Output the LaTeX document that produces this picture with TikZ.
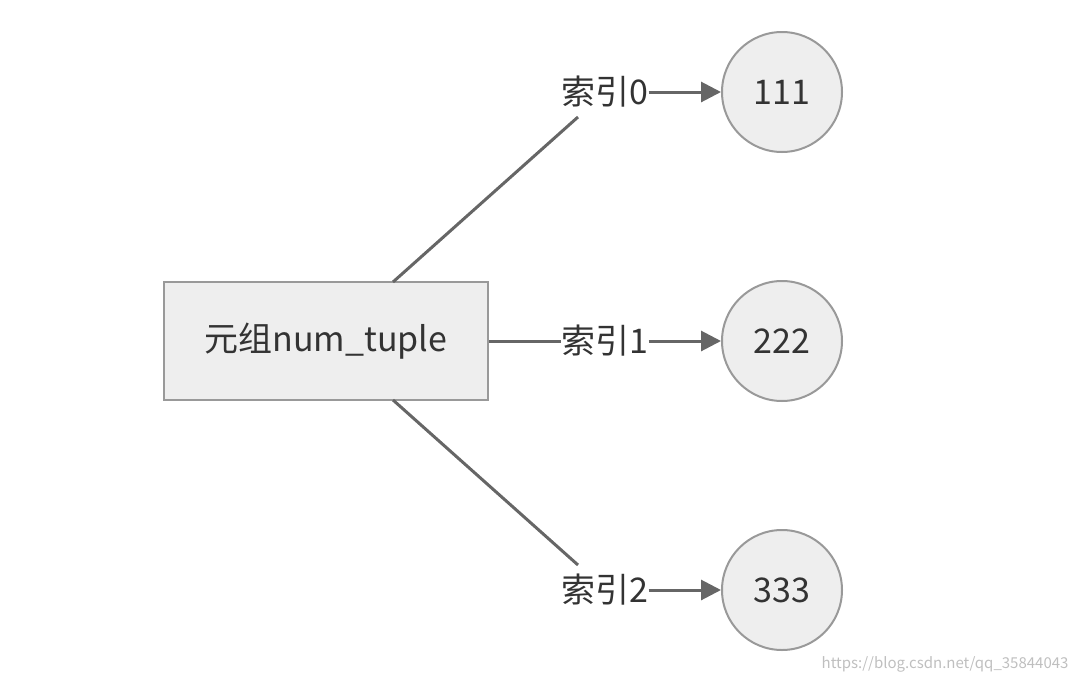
\documentclass[tikz,border=0pt]{standalone}
\usepackage{fontspec}
\setmainfont{Noto Sans CJK SC}
\usetikzlibrary{arrows.meta}
\definecolor{boxfill}{HTML}{EEEEEE}
\definecolor{boxline}{HTML}{999999}
\definecolor{conn}{HTML}{666666}
\definecolor{txt}{HTML}{333333}
\begin{document}
\begin{tikzpicture}[x=1pt,y=-1pt,
  every node/.style={text=txt,font=\fontsize{34}{40}\selectfont},
  box/.style={draw=boxline,fill=boxfill,line width=2pt,minimum width=324pt,minimum height=118pt,inner sep=0pt},
  val/.style={circle,draw=boxline,fill=boxfill,line width=2pt,minimum size=120pt,inner sep=0pt},
  lab/.style={inner sep=0pt},
  link/.style={draw=conn,line width=3pt},
  arr/.style={link,-{Triangle[length=20pt,width=20pt]}}]
\useasboundingbox (0,0) rectangle (1080,683);
\node[box] (t) at (326,341) {元组num\_tuple};
\node[val] (a) at (782,92) {111};
\node[val] (b) at (782,341) {222};
\node[val] (c) at (782,590) {333};
\node[lab] (l0) at (605,92) {索引0};
\node[lab] (l1) at (605,341) {索引1};
\node[lab] (l2) at (605,590) {索引2};
\coordinate (l0s) at (578,117);
\coordinate (l2s) at (578,565);
\draw[link] (393,282) -- (l0s);
\draw[link] (t.east) -- (l1.west);
\draw[link] (393,400) -- (l2s);
\draw[arr] (l0.east) -- (a.west);
\draw[arr] (l1.east) -- (b.west);
\draw[arr] (l2.east) -- (c.west);
\node[text=black!25,font=\fontsize{15}{18}\selectfont,anchor=east] (wm) at (1072,664) {https://blog.csdn.net/qq\_35844043};
\end{tikzpicture}
\end{document}
